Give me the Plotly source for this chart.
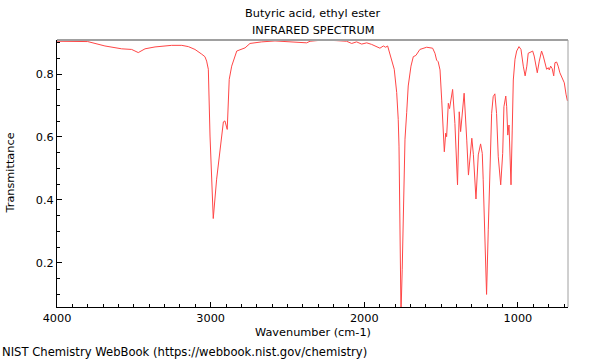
import plotly.graph_objects as go

# Wavenumber (cm-1)
wavenumber = [
    4000, 3915, 3800, 3688, 3579, 3514, 3471, 3427, 3362, 3254, 3188, 3145, 3102,
    3058, 3037, 3026, 3015, 3004, 2983, 2961, 2939, 2917, 2907, 2892, 2879, 2863,
    2830, 2776, 2744, 2668, 2581, 2375, 2353, 2267, 2180, 2115, 2082, 2050, 2017,
    1984, 1952, 1924, 1898, 1876, 1861, 1848, 1839, 1822, 1805, 1789, 1779, 1774,
    1768, 1761, 1753, 1742, 1735, 1724, 1714, 1696, 1681, 1664, 1649, 1638, 1594,
    1555, 1540, 1529, 1519, 1507, 1496, 1486, 1479, 1470, 1464, 1453, 1445, 1425,
    1410, 1393, 1382, 1373, 1350, 1333, 1322, 1300, 1290, 1273, 1258, 1243, 1232,
    1226, 1215, 1204, 1193, 1182, 1171, 1161, 1150, 1139, 1128, 1112, 1099, 1091,
    1079, 1073, 1066, 1058, 1052, 1045, 1037, 1030, 1019, 1008, 993, 980, 965,
    953, 942, 933, 915, 904, 894, 883, 874, 861, 846, 835, 824, 813, 802, 796,
    787, 777, 767, 759, 748, 738, 727, 712, 698, 687, 678,
]

# Transmittance
transmittance = [
    0.904, 0.904, 0.903, 0.889, 0.880, 0.878, 0.868, 0.880, 0.886, 0.891, 0.891, 0.887, 0.878,
    0.863, 0.855, 0.841, 0.815, 0.603, 0.341, 0.466, 0.561, 0.648, 0.651, 0.624, 0.783, 0.825,
    0.873, 0.883, 0.897, 0.902, 0.905, 0.899, 0.904, 0.908, 0.906, 0.904, 0.897, 0.902, 0.895,
    0.899, 0.894, 0.889, 0.882, 0.889, 0.885, 0.889, 0.873, 0.847, 0.815, 0.741, 0.656, 0.571,
    0.286, 0.040, 0.180, 0.391, 0.593, 0.677, 0.762, 0.825, 0.855, 0.859, 0.870, 0.878, 0.885,
    0.882, 0.866, 0.844, 0.839, 0.813, 0.717, 0.612, 0.553, 0.612, 0.601, 0.707, 0.690, 0.751,
    0.643, 0.448, 0.680, 0.617, 0.739, 0.590, 0.479, 0.596, 0.545, 0.403, 0.543, 0.578, 0.548,
    0.464, 0.305, 0.100, 0.305, 0.516, 0.675, 0.728, 0.737, 0.675, 0.537, 0.448, 0.548, 0.696,
    0.730, 0.696, 0.606, 0.638, 0.569, 0.448, 0.622, 0.781, 0.847, 0.873, 0.887, 0.878, 0.825,
    0.794, 0.825, 0.866, 0.870, 0.873, 0.857, 0.820, 0.804, 0.841, 0.873, 0.857, 0.831, 0.815, 0.820, 0.813,
    0.825, 0.817, 0.794, 0.836, 0.838, 0.825, 0.804, 0.788, 0.772, 0.736, 0.715,
]

x_tick_vals = [4000, 3000, 2000, 1000]
x_tick_text = ["4000", "3000", "2000", "1000"]
y_tick_vals = [0.2, 0.4, 0.6, 0.8]
y_tick_text = ["0.2", "0.4", "0.6", "0.8"]

FONT = "DejaVu Sans"
FS = 11.3

fig = go.Figure()
fig.add_trace(go.Scatter(
    x=wavenumber, y=transmittance, mode="lines",
    line=dict(color="rgb(255,70,70)", width=1),
    hoverinfo="skip", showlegend=False,
))

fig.update_layout(
    template="none",
    width=600, height=360,
    margin=dict(l=57, r=32, t=40, b=53, autoexpand=False),
    paper_bgcolor="white", plot_bgcolor="white",
    font=dict(family=FONT, size=FS, color="black"),
    showlegend=False,
)

fig.update_xaxes(
    range=[4000, 674], automargin=False,
    tickvals=x_tick_vals, ticktext=x_tick_text,
    ticks="inside", ticklen=5, tickcolor="black", tickwidth=1,
    minor=dict(dtick=100, ticks="inside", ticklen=3, tickcolor="black", tick0=0),
    showline=True, linecolor="black", linewidth=1,
    showgrid=False, zeroline=False,
    tickfont=dict(family=FONT, size=FS),
)
fig.update_yaxes(
    range=[0.06, 0.908], automargin=False,
    tickvals=y_tick_vals, ticktext=y_tick_text,
    ticks="inside", ticklen=5, tickcolor="black", tickwidth=1,
    minor=dict(dtick=0.05, tick0=0, ticks="inside", ticklen=3, tickcolor="black"),
    showline=True, linecolor="black", linewidth=1,
    showgrid=False, zeroline=False,
    tickfont=dict(family=FONT, size=FS),
)

# grey frame on top and right
fig.add_shape(type="line", xref="paper", yref="paper", x0=0, x1=1, y0=1, y1=1,
              line=dict(color="rgb(160,160,160)", width=2))
fig.add_shape(type="line", xref="paper", yref="paper", x0=1, x1=1, y0=0, y1=1,
              line=dict(color="rgb(160,160,160)", width=1))

fig.add_annotation(text="Butyric acid, ethyl ester", xref="paper", yref="paper",
                   x=0.5, y=1, yshift=27, yanchor="middle", showarrow=False,
                   font=dict(family=FONT, size=FS))
fig.add_annotation(text="INFRARED SPECTRUM", xref="paper", yref="paper",
                   x=0.5, y=1, yshift=10, yanchor="middle", showarrow=False,
                   font=dict(family=FONT, size=FS))
fig.add_annotation(text="Wavenumber (cm-1)", xref="paper", yref="paper",
                   x=0.5, y=0, yshift=-25, yanchor="middle", showarrow=False,
                   font=dict(family=FONT, size=FS))
fig.add_annotation(text="Transmittance", xref="paper", yref="paper",
                   x=0, xshift=-47, y=0.5, xanchor="center", yanchor="middle",
                   textangle=-90, showarrow=False,
                   font=dict(family=FONT, size=FS))
fig.add_annotation(text="NIST Chemistry WebBook (https://webbook.nist.gov/chemistry)",
                   xref="paper", yref="paper", x=0, xshift=-57, y=0, yshift=-45,
                   xanchor="left", yanchor="middle", showarrow=False,
                   font=dict(family=FONT, size=11.6))

fig.write_html(
    "out.html",
    config={"displayModeBar": False},
    post_script="document.body.style.margin='0px';document.body.style.overflow='hidden';",
)
